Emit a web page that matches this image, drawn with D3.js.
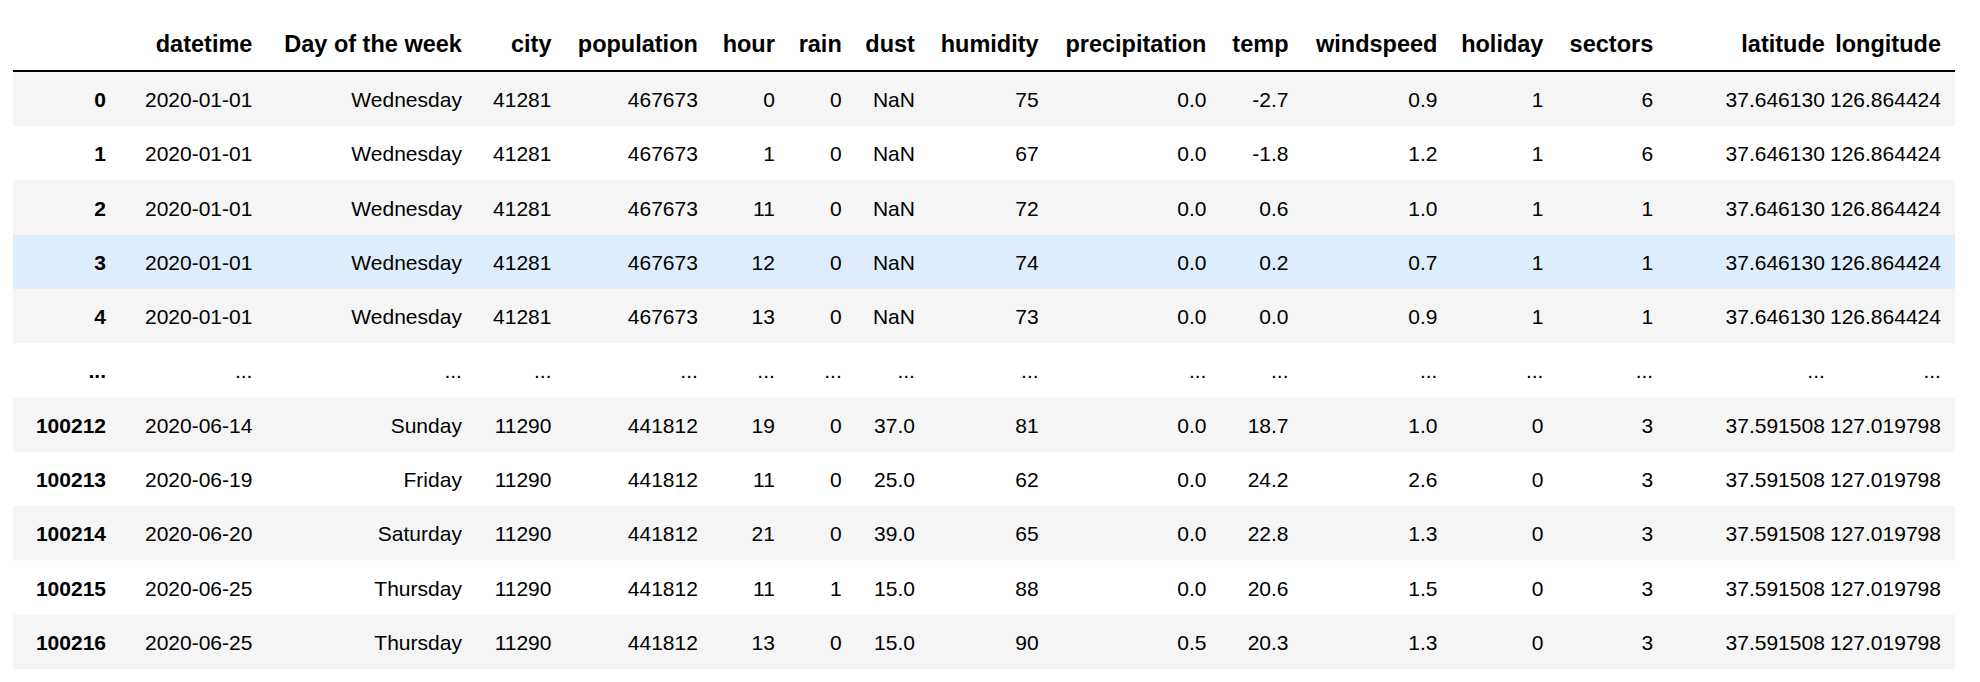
<!DOCTYPE html>
<html><head><meta charset="utf-8">
<script src="https://cdn.jsdelivr.net/npm/d3@7"></script>
<style>body{margin:0;background:#fff}text{font-family:"Liberation Sans",Arial,sans-serif}</style>
</head><body><svg id="tbl" width="1980" height="682"></svg>
<script>
var columns = ["", "datetime", "Day of the week", "city", "population", "hour", "rain", "dust", "humidity", "precipitation", "temp", "windspeed", "holiday", "sectors", "latitude", "longitude"];
var rows = [
  ["0", "2020-01-01", "Wednesday", "41281", "467673", "0", "0", "NaN", "75", "0.0", "-2.7", "0.9", "1", "6", "37.646130", "126.864424"],
  ["1", "2020-01-01", "Wednesday", "41281", "467673", "1", "0", "NaN", "67", "0.0", "-1.8", "1.2", "1", "6", "37.646130", "126.864424"],
  ["2", "2020-01-01", "Wednesday", "41281", "467673", "11", "0", "NaN", "72", "0.0", "0.6", "1.0", "1", "1", "37.646130", "126.864424"],
  ["3", "2020-01-01", "Wednesday", "41281", "467673", "12", "0", "NaN", "74", "0.0", "0.2", "0.7", "1", "1", "37.646130", "126.864424"],
  ["4", "2020-01-01", "Wednesday", "41281", "467673", "13", "0", "NaN", "73", "0.0", "0.0", "0.9", "1", "1", "37.646130", "126.864424"],
  ["...", "...", "...", "...", "...", "...", "...", "...", "...", "...", "...", "...", "...", "...", "...", "..."],
  ["100212", "2020-06-14", "Sunday", "11290", "441812", "19", "0", "37.0", "81", "0.0", "18.7", "1.0", "0", "3", "37.591508", "127.019798"],
  ["100213", "2020-06-19", "Friday", "11290", "441812", "11", "0", "25.0", "62", "0.0", "24.2", "2.6", "0", "3", "37.591508", "127.019798"],
  ["100214", "2020-06-20", "Saturday", "11290", "441812", "21", "0", "39.0", "65", "0.0", "22.8", "1.3", "0", "3", "37.591508", "127.019798"],
  ["100215", "2020-06-25", "Thursday", "11290", "441812", "11", "1", "15.0", "88", "0.0", "20.6", "1.5", "0", "3", "37.591508", "127.019798"],
  ["100216", "2020-06-25", "Thursday", "11290", "441812", "13", "0", "15.0", "90", "0.5", "20.3", "1.3", "0", "3", "37.591508", "127.019798"]
];
var hoverRow = 3;

// right edge of each column (layout)
var colRight = [84, 200, 366, 437, 553, 614, 667, 725, 823, 956, 1021, 1139, 1223, 1310, 1446, 1538].map(function (v) { return v * 1.262; });

var svg = d3.select("#tbl");
var left = 13, right = 1955;
var y = d3.scaleBand().domain(d3.range(rows.length)).range([72, 669]);

svg.append("text").attr("y", 52).selectAll("tspan").data(columns).join("tspan")
  .attr("x", function (d, i) { return colRight[i]; })
  .attr("text-anchor", "end").attr("font-weight", "bold").attr("font-size", 23.5)
  .text(function (d) { return d; });

svg.append("line").attr("x1", left).attr("x2", right).attr("y1", 71).attr("y2", 71)
  .attr("stroke", "#000").attr("stroke-width", 2);

var g = svg.append("g").selectAll("g").data(rows).join("g")
  .attr("transform", function (d, i) { return "translate(0," + y(i) + ")"; });

g.append("rect").attr("x", left).attr("width", right - left).attr("height", y.bandwidth())
  .attr("fill", function (d, i) { return i === hoverRow ? "#deedfb" : (i % 2 === 0 ? "#f5f5f5" : "#fff"); });

g.selectAll("text").data(function (d) { return d; }).join("text")
  .attr("x", function (d, i) { return colRight[i]; })
  .attr("y", y.bandwidth() / 2 + 8)
  .attr("text-anchor", "end").attr("font-size", 21)
  .attr("font-weight", function (d, i) { return i === 0 ? "bold" : null; })
  .attr("fill", "#000")
  .text(function (d) { return d; });
</script></body></html>
